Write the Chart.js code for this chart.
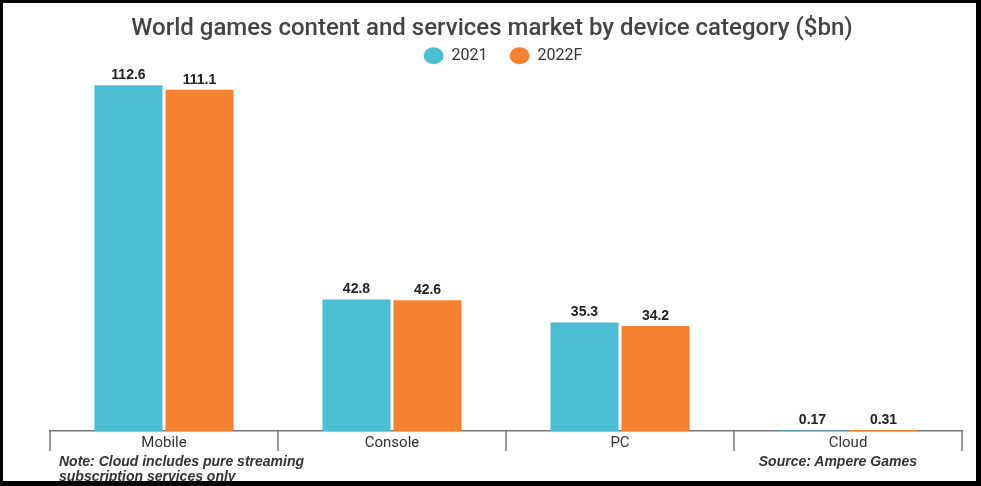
<!DOCTYPE html>
<html>
<head>
<meta charset="utf-8">
<script src="https://cdn.jsdelivr.net/npm/chart.js@4/dist/chart.umd.min.js"></script>
<style>
  html, body { margin: 0; padding: 0; background: #fff; }
  #wrap { position: relative; width: 981px; height: 486px; overflow: hidden; }
  #c { position: absolute; left: 0; top: 0; }
  #frame { position: absolute; left: 0; top: 0; width: 981px; height: 486px; box-sizing: border-box;
           border-top: 3px solid #000; border-left: 3px solid #000; border-right: 5px solid #000; border-bottom: 5px solid #000; pointer-events: none; }
  .note { position: absolute; font-family: "Liberation Sans", Arial, sans-serif; font-style: italic; font-weight: bold; font-size: 14px; color: #333; line-height: 15px; white-space: nowrap; }
</style>
</head>
<body>
<div id="wrap">
  <canvas id="c" width="981" height="486"></canvas>
  <div class="note" style="left:59px; top:454px;">Note: Cloud includes pure streaming<br>subscription services only</div>
  <div class="note" style="right:64px; top:454px;">Source: Ampere Games</div>
  <div id="frame"></div>
</div>
<script>
const categories = ["Mobile", "Console", "PC", "Cloud"];
const seriesNames = ["2021", "2022F"];
const values2021 = [112.6, 42.8, 35.3, 0.17];
const values2022F = [111.1, 42.6, 34.2, 0.31];
const valueLabels2021 = ["112.6", "42.8", "35.3", "0.17"];
const valueLabels2022F = ["111.1", "42.6", "34.2", "0.31"];

const labelPlugin = {
  id: 'valueLabels',
  afterDatasetsDraw(chart) {
    const ctx = chart.ctx;
    ctx.save();
    ctx.font = 'bold 14px "Liberation Sans", Arial, sans-serif';
    ctx.fillStyle = '#222';
    ctx.textAlign = 'center';
    ctx.textBaseline = 'bottom';
    chart.data.datasets.forEach((ds, i) => {
      const meta = chart.getDatasetMeta(i);
      meta.data.forEach((bar, j) => {
        ctx.fillText(ds.valueLabels[j], bar.x, bar.y - 3);
      });
    });
    ctx.restore();
  }
};

const separatorPlugin = {
  id: 'categorySeparators',
  afterDraw(chart) {
    const sx = chart.scales.x;
    const ctx = chart.ctx;
    const bottom = chart.chartArea.bottom;
    ctx.save();
    ctx.strokeStyle = '#777';
    ctx.lineWidth = 1.5;
    for (let i = 0; i <= categories.length; i++) {
      const x = sx.getPixelForValue(i - 0.5);
      ctx.beginPath();
      ctx.moveTo(x, bottom);
      ctx.lineTo(x, bottom + 20);
      ctx.stroke();
    }
    ctx.restore();
  }
};

const legendShiftPlugin = {
  id: 'legendShift',
  afterLayout(chart) {
    chart.legend.left += 11;
    chart.legend.right += 11;
  }
};

new Chart(document.getElementById('c'), {
  type: 'bar',
  data: {
    labels: categories,
    datasets: [
      { label: seriesNames[0], data: values2021, valueLabels: valueLabels2021, backgroundColor: '#4BBED3', borderWidth: 0 },
      { label: seriesNames[1], data: values2022F, valueLabels: valueLabels2022F, backgroundColor: '#F48231', borderWidth: 0 }
    ]
  },
  options: {
    responsive: false,
    animation: false,
    layout: { padding: { left: 22, right: 19, top: 15, bottom: 31 } },
    datasets: { bar: { categoryPercentage: 0.623, barPercentage: 0.958 } },
    plugins: {
      title: {
        display: true,
        text: 'World games content and services market by device category ($bn)',
        color: '#444',
        font: { family: 'Roboto, sans-serif', size: 24, weight: '500' },
        padding: { top: 0, bottom: -18 }
      },
      legend: {
        display: true,
        labels: {
          usePointStyle: true, pointStyle: 'circle', pointStyleWidth: 20, boxWidth: 12, boxHeight: 12,
          color: '#333', font: { family: 'Roboto, sans-serif', size: 16 }, padding: 22
        }
      },
      tooltip: { enabled: false }
    },
    scales: {
      x: {
        grid: { display: true, drawOnChartArea: false, drawTicks: false, tickLength: 0 },
        border: { display: true, color: '#777', width: 1.5 },
        ticks: { color: '#333', font: { family: 'Roboto, sans-serif', size: 15 }, padding: 3 }
      },
      y: {
        display: true, min: 0, max: 116.3,
        grid: { display: false, drawTicks: false },
        border: { display: false },
        ticks: { display: false },
        afterFit(scale) { scale.width = 28; }
      }
    }
  },
  plugins: [labelPlugin, separatorPlugin, legendShiftPlugin]
});
</script>
</body>
</html>
